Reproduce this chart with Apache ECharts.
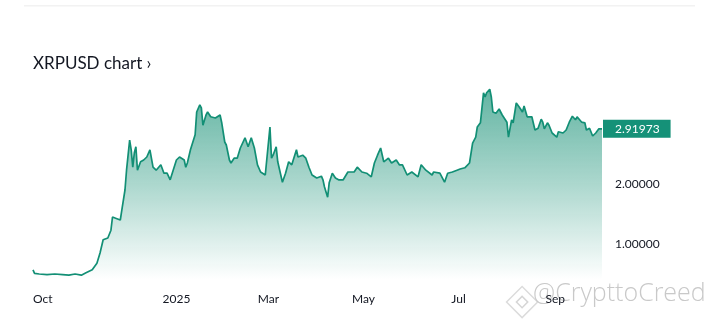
<!DOCTYPE html>
<html><head><meta charset="utf-8">
<script src="https://cdn.jsdelivr.net/npm/echarts@6/dist/echarts.min.js"></script>
<style>html,body{margin:0;padding:0;background:#fff}#c{width:720px;height:321px}</style>
</head><body><div id="c"></div>
<script>
const dates = ['2024-10-01','2024-10-02','2024-10-05','2024-10-10','2024-10-15','2024-10-20','2024-10-24','2024-10-28','2024-11-01','2024-11-04','2024-11-08','2024-11-11','2024-11-13','2024-11-15','2024-11-16','2024-11-18','2024-11-20','2024-11-21','2024-11-23','2024-11-26','2024-11-27','2024-11-29','2024-11-30',
'2024-12-02','2024-12-03','2024-12-04','2024-12-05','2024-12-06','2024-12-07','2024-12-09','2024-12-10','2024-12-11','2024-12-13','2024-12-15','2024-12-17','2024-12-19','2024-12-22','2024-12-24','2024-12-26','2024-12-28',
'2025-01-01','2025-01-03','2025-01-04','2025-01-06','2025-01-07','2025-01-08','2025-01-10','2025-01-11','2025-01-13','2025-01-14','2025-01-16','2025-01-17','2025-01-18','2025-01-20','2025-01-21','2025-01-23','2025-01-26','2025-01-27','2025-01-29','2025-01-30',
'2025-02-01','2025-02-02','2025-02-04','2025-02-05','2025-02-07','2025-02-09','2025-02-11','2025-02-14','2025-02-16','2025-02-18','2025-02-20','2025-02-22','2025-02-24','2025-02-27',
'2025-03-02','2025-03-03','2025-03-04','2025-03-06','2025-03-07','2025-03-10','2025-03-12','2025-03-14','2025-03-16','2025-03-17','2025-03-19','2025-03-20','2025-03-23','2025-03-25','2025-03-27','2025-03-29',
'2025-04-01','2025-04-04','2025-04-05','2025-04-06','2025-04-08','2025-04-09','2025-04-11','2025-04-13','2025-04-15','2025-04-18','2025-04-21','2025-04-25','2025-04-27','2025-04-30',
'2025-05-03','2025-05-06','2025-05-08','2025-05-10','2025-05-12','2025-05-14','2025-05-17','2025-05-19','2025-05-22','2025-05-24','2025-05-26','2025-05-29',
'2025-06-01','2025-06-05','2025-06-07','2025-06-10','2025-06-14','2025-06-15','2025-06-19','2025-06-22','2025-06-24','2025-06-27','2025-06-30',
'2025-07-02','2025-07-05','2025-07-06','2025-07-08','2025-07-10','2025-07-12','2025-07-13','2025-07-15','2025-07-17','2025-07-18','2025-07-19','2025-07-21','2025-07-22','2025-07-23','2025-07-25','2025-07-27','2025-07-29',
'2025-08-01','2025-08-02','2025-08-04','2025-08-05','2025-08-07','2025-08-09','2025-08-11','2025-08-12','2025-08-14','2025-08-17','2025-08-18','2025-08-19','2025-08-21','2025-08-23','2025-08-24','2025-08-25','2025-08-27','2025-08-28','2025-08-30',
'2025-09-02','2025-09-03','2025-09-06','2025-09-08','2025-09-10','2025-09-12','2025-09-14','2025-09-15','2025-09-18','2025-09-20','2025-09-21','2025-09-23','2025-09-25','2025-09-27','2025-09-29','2025-10-01'];
const prices = [0.57,0.51,0.50,0.49,0.50,0.49,0.48,0.50,0.48,0.52,0.57,0.68,0.85,1.07,1.10,1.10,1.23,1.45,1.43,1.40,1.57,1.90,2.23,
2.73,2.57,2.28,2.52,2.62,2.23,2.37,2.37,2.40,2.45,2.57,2.28,2.23,2.32,2.18,2.18,2.07,
2.40,2.45,2.43,2.40,2.28,2.35,2.57,2.60,2.82,3.20,3.32,3.27,2.98,3.15,3.20,3.12,3.10,3.10,3.15,3.03,
2.70,2.65,2.40,2.35,2.43,2.43,2.60,2.77,2.62,2.77,2.60,2.32,2.20,2.15,
2.95,2.43,2.48,2.62,2.37,2.03,2.18,2.37,2.32,2.32,2.57,2.45,2.48,2.43,2.28,2.15,
2.10,2.13,2.07,1.95,1.78,2.02,2.18,2.10,2.07,2.07,2.20,2.20,2.28,2.20,
2.18,2.12,2.35,2.48,2.60,2.37,2.43,2.35,2.40,2.32,2.32,2.15,
2.20,2.12,2.32,2.23,2.15,2.20,2.18,2.03,2.18,2.20,2.23,
2.25,2.27,2.28,2.35,2.68,2.78,2.95,3.02,3.52,3.45,3.52,3.58,3.45,3.20,3.18,3.25,3.15,
3.03,2.78,3.07,3.02,3.35,3.28,3.20,3.30,3.12,3.12,3.10,2.90,2.93,3.08,3.03,2.92,3.02,2.98,2.85,
2.78,2.87,2.85,2.90,3.03,3.13,3.07,3.12,3.03,3.02,2.90,2.93,2.80,2.85,2.92,2.91973];
const lastPrice = 2.91973;
const xTickDates = ['2024-10-01','2025-01-01','2025-03-01','2025-05-01','2025-07-01','2025-09-01'];
const xTickLabels = ['Oct','2025','Mar','May','Jul','Sep'];
const yTickValues = [1, 2];

const ts = d => Date.parse(d + 'T00:00:00Z');
const chart = echarts.init(document.getElementById('c'), null, {renderer:'canvas'});
const tickTs = xTickDates.map(ts);
const labelMap = {};
tickTs.forEach((t,i)=>{ labelMap[t] = xTickLabels[i]; });
const font = 'Lato, "DejaVu Sans", sans-serif';
chart.setOption({
  animation: false,
  title: { text: 'XRPUSD chart \u203a', left: 33, top: 55, padding: 0, textStyle: { fontFamily: font, fontSize: 17, fontWeight: 'normal', color: '#131722' } },
  grid: { left: 33, right: 118, top: 76, bottom: 41 },
  xAxis: {
    type: 'value',
    min: ts('2024-10-01'), max: ts('2025-10-01'),
    axisLine: { show: false }, axisTick: { show: false }, splitLine: { show: false },
    axisLabel: {
      customValues: tickTs,
      alignMinLabel: 'left',
      margin: 13,
      fontFamily: font, fontSize: 12, color: '#131722',
      formatter: v => labelMap[v] !== undefined ? labelMap[v] : ''
    }
  },
  yAxis: {
    type: 'value', position: 'right',
    min: 0.4, max: 3.8,
    axisLine: { show: false }, axisTick: { show: false }, splitLine: { show: false },
    axisLabel: { customValues: yTickValues, margin: 13, fontFamily: font, fontSize: 12, color: '#131722', formatter: v => v.toFixed(5) }
  },
  series: [{
    type: 'line',
    data: dates.map((d,i) => [ts(d), prices[i]]),
    showSymbol: false,
    lineStyle: { color: '#128f75', width: 1.7 },
    areaStyle: {
      origin: 'start',
      color: new echarts.graphic.LinearGradient(0,0,0,1,[
        {offset:0, color:'rgba(20,143,116,0.95)'},
        {offset:0.5, color:'rgba(20,143,116,0.5)'},
        {offset:1, color:'rgba(20,143,116,0.0)'}
      ])
    },
    markLine: {
      symbol: 'none', silent: true,
      data: [{ yAxis: lastPrice }],
      lineStyle: { width: 0, color: 'rgba(0,0,0,0)' },
      label: {
        show: true,
        position: 'end', distance: 1,
        formatter: () => lastPrice.toFixed(5),
        color: '#fff', backgroundColor: '#159178',
        fontFamily: font, fontSize: 12,
        padding: [3, 11, 3, 12]
      }
    }
  }],
  graphic: [
    { type: 'rect', left: 24, top: 5, shape: { width: 671, height: 1.5 }, style: { fill: '#f2f2f2' }, silent: true },
    { type: 'group', left: 503, top: 283, children: [
      { type: 'rect', rotation: Math.PI/4, originX: 11, originY: 11, shape: { x: 7, y: 7, width: 8, height: 8 }, style: { fill: 'none', stroke: '#d6d6d6', lineWidth: 1.5 } },
      { type: 'rect', rotation: Math.PI/4, originX: 11, originY: 11, shape: { x: 0, y: 0, width: 22, height: 22 }, style: { fill: 'none', stroke: '#dcdcdc', lineWidth: 1.5 } }
    ]},
    { type: 'text', left: 533, top: 281, style: { text: '@CrypttoCreed', fill: '#c9c9c9', fontFamily: '"Open Sans", sans-serif', fontSize: 25, fontWeight: 300 }, silent: true }
  ]
});
</script></body></html>
